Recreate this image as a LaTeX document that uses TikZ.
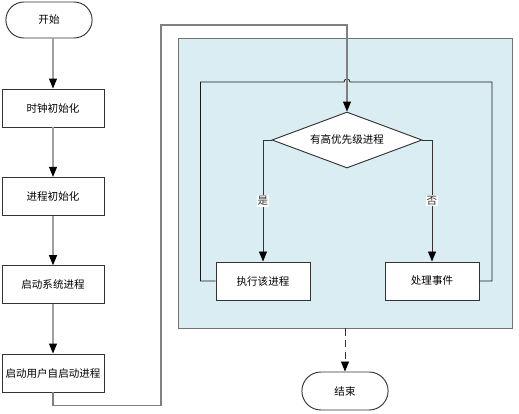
\documentclass[tikz,border=0pt]{standalone}
\usepackage{fontspec}
\newfontfamily\cjk{Noto Sans CJK SC}
\usetikzlibrary{positioning,shapes.geometric,shapes.misc,arrows.meta}
\definecolor{panelblue}{HTML}{DAEDF3}
\definecolor{leftgray}{HTML}{A0A0A0}

\begin{document}
\begin{tikzpicture}[
    node distance=2.65cm,
    terminal/.style={
        rounded rectangle,
        draw=black!80,
        fill=white,
        line width=0.8pt,
        minimum width=2.82cm,
        minimum height=1.08cm,
        font=\cjk\fontsize{9}{11}\selectfont
    },
    process/.style={
        rectangle,
        draw=black!80,
        fill=white,
        line width=0.8pt,
        minimum width=3.06cm,
        minimum height=1.14cm,
        inner sep=1pt,
        font=\cjk\fontsize{9}{11}\selectfont
    },
    decision/.style={
        diamond,
        draw=black!80,
        fill=white,
        line width=0.8pt,
        aspect=2.68,
        inner sep=0pt,
        minimum width=4.5cm,
        minimum height=1.68cm,
        font=\cjk\fontsize{9}{11}\selectfont
    },
    panel/.style={
        rectangle,
        draw=black!55,
        fill=panelblue,
        line width=0.8pt,
        minimum width=10.02cm,
        minimum height=8.7cm
    },
    arrow/.style={
        -{Triangle[length=3mm,width=2.4mm,color=black]},
        line width=0.9pt
    },
    branch/.style={
        fill=white,
        inner sep=1pt,
        font=\cjk\fontsize{9}{11}\selectfont
    }
]
\useasboundingbox (0,0) rectangle (15.57,-12.39);

% Colonna sinistra
\node[terminal] (start) at (1.47,-0.6) {开始};
\node[process] (clock) at (1.59,-3.24) {时钟初始化};
\node[process, below of=clock] (procinit) {进程初始化};
\node[process, below of=procinit] (sysproc) {启动系统进程};
\node[process, below of=sysproc] (userproc) {启动用户自启动进程};

\draw[arrow, leftgray] (start.south -| clock.north) -- (clock);
\draw[arrow, leftgray] (clock) -- (procinit);
\draw[arrow, leftgray] (procinit) -- (sysproc);
\draw[arrow, leftgray] (sysproc) -- (userproc);

% Pannello di schedulazione
\node[panel] (panel) at (10.35,-5.49) {};
\node[decision] (hiprio) at (10.41,-4.2) {有高优先级进程};
\node[process, minimum width=2.82cm] (runproc) at (7.89,-8.43) {执行该进程};
\node[process, minimum width=2.82cm] (handle) at (12.96,-8.43) {处理事件};

\draw[arrow, black!80, line width=0.7pt] (hiprio.west) -| node[pos=0.75, branch] {是} (runproc.north);
\draw[arrow, black!80, line width=0.7pt] (hiprio.east) -| node[pos=0.75, branch] {否} (handle.north);

% Ciclo
\coordinate (hopL) at (10.32,-2.46);
\draw[line width=0.7pt, black!90] (runproc.west) -- ++(-0.45,0) |- (hopL)
    arc[start angle=180, end angle=0, radius=0.09] -- ++(4.26,0) |- (handle.east);

% Ingresso nel ciclo
\draw[arrow, black!50] (userproc.south) -- ++(0,-0.39) -| (4.83,-0.75) -| (hiprio.north);

% Fine
\node[terminal, minimum height=1.14cm] (stop) at (10.35,-11.73) {结束};
\draw[arrow, black!80, line width=0.7pt, dash pattern=on 6pt off 4pt] (panel.south -| stop.north) -- (stop.north);

\end{tikzpicture}
\end{document}
